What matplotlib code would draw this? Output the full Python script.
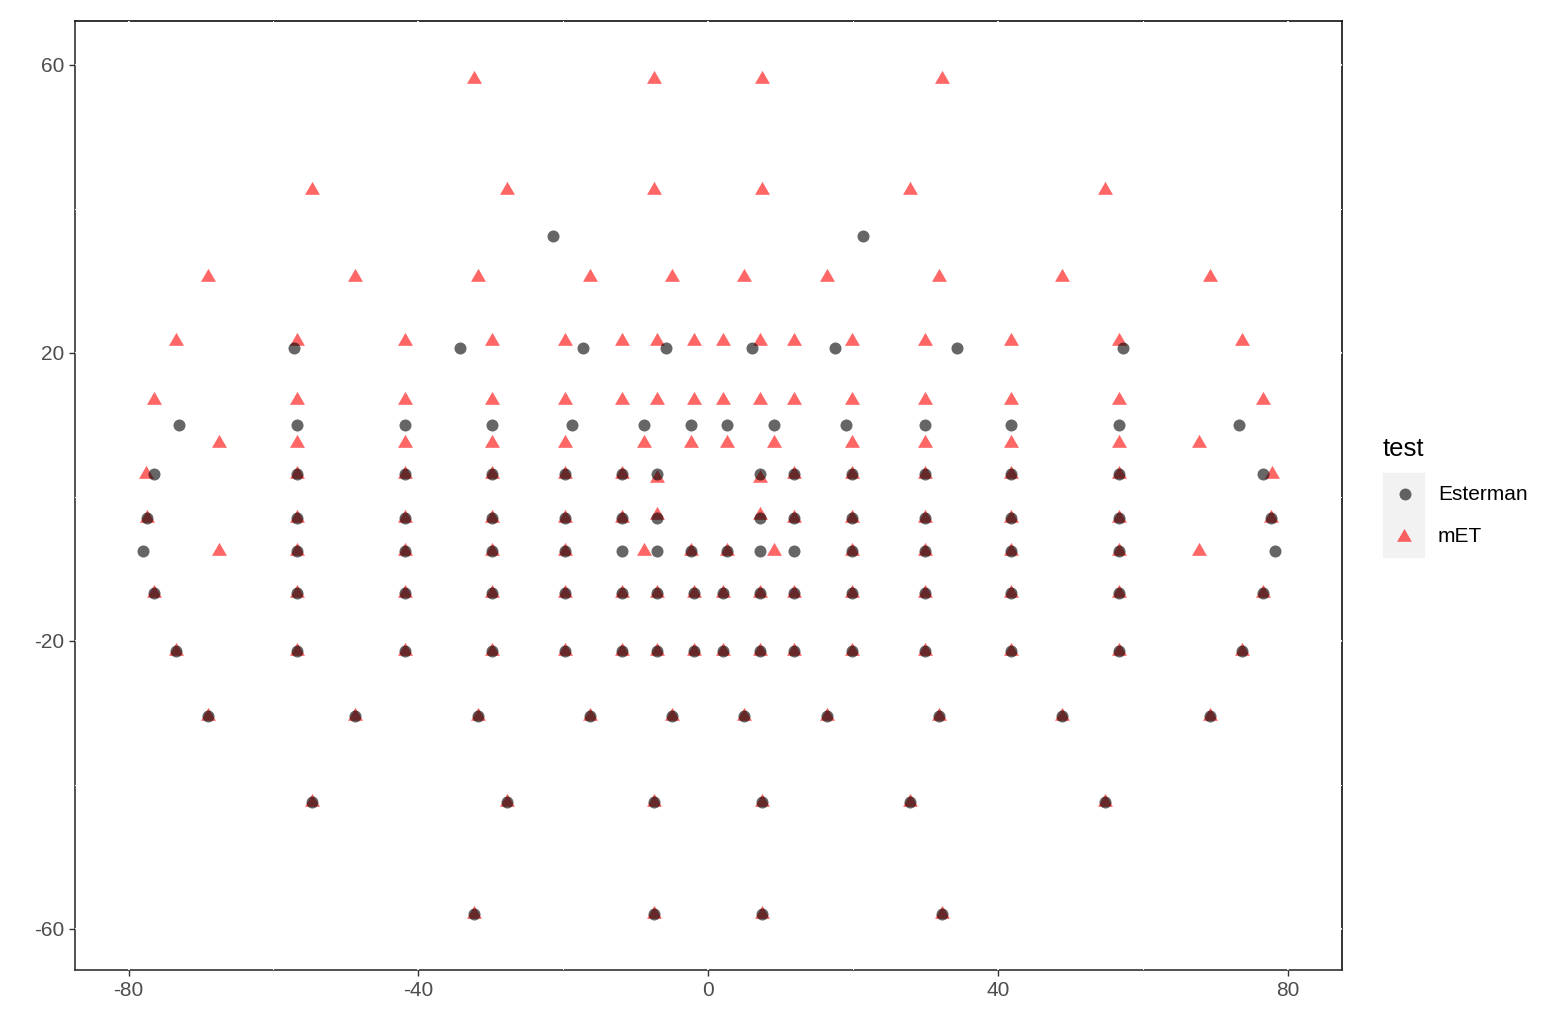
import matplotlib
matplotlib.use("Agg")
import matplotlib.pyplot as plt
from matplotlib.patches import Rectangle
from matplotlib.lines import Line2D

plt.rcParams['font.family'] = ['Liberation Sans', 'DejaVu Sans']
plt.rcParams['axes.unicode_minus'] = False

# Esterman points, stored row by row (y value of the row, then the x values)
est_y = [36.2, 20.65, 10.0, 3.15, -2.95, -7.45, -13.4, -21.4, -30.4, -42.4, -57.9]
est_x = [
    [-21.4, 21.4],
    [-57.2, -34.2, -17.3, -5.8, 6.1, 17.5, 34.4, 57.3],
    [-73.0, -56.7, -41.8, -29.9, -18.8, -8.8, -2.3, 2.6, 9.1, 19.0, 29.9, 41.8, 56.7, 73.3],
    [-76.5, -56.7, -41.8, -29.9, -19.8, -11.9, -7.0, 7.1, 11.9, 19.8, 29.9, 41.8, 56.7, 76.6],
    [-77.4, -56.7, -41.8, -29.9, -19.8, -11.9, -7.0, 7.1, 11.9, 19.8, 29.9, 41.8, 56.7, 77.7],
    [-78.0, -56.7, -41.8, -29.9, -19.8, -11.9, -7.0, -2.3, 2.6, 7.1, 11.9, 19.8, 29.9, 41.8, 56.7, 78.3],
    [-76.5, -56.7, -41.8, -29.9, -19.8, -11.9, -7.0, -2.0, 2.0, 7.1, 11.9, 19.8, 29.9, 41.8, 56.7, 76.6],
    [-73.4, -56.7, -41.8, -29.9, -19.8, -11.9, -7.0, -2.0, 2.0, 7.1, 11.9, 19.8, 29.9, 41.8, 56.7, 73.7],
    [-69.0, -48.7, -31.8, -16.3, -5.0, 5.0, 16.4, 31.8, 48.9, 69.3],
    [-54.7, -27.7, -7.5, 7.5, 27.9, 54.8],
    [-32.3, -7.5, 7.5, 32.3],
]

# mET points, same layout
met_y = [58.1, 42.6, 30.6, 21.6, 13.5, 7.55, 3.15, 2.6, -2.5, -2.95, -7.45,
         -13.4, -21.4, -30.4, -42.4, -57.9]
met_x = [
    [-32.3, -7.5, 7.5, 32.3],
    [-54.7, -27.7, -7.5, 7.5, 27.9, 54.8],
    [-69.0, -48.7, -31.8, -16.3, -5.0, 5.0, 16.4, 31.8, 48.9, 69.3],
    [-73.4, -56.7, -41.8, -29.9, -19.8, -11.9, -7.0, -2.0, 2.0, 7.1, 11.9, 19.8, 29.9, 41.8, 56.7, 73.7],
    [-76.5, -56.7, -41.8, -29.9, -19.8, -11.9, -7.0, -2.0, 2.0, 7.1, 11.9, 19.8, 29.9, 41.8, 56.7, 76.6],
    [-67.5, -56.7, -41.8, -29.9, -19.8, -8.8, -2.3, 2.6, 9.1, 19.8, 29.9, 41.8, 56.7, 67.8],
    [-77.6, -56.7, -41.8, -29.9, -19.8, -11.9, 11.9, 19.8, 29.9, 41.8, 56.7, 77.9],
    [-7.0, 7.1],
    [-7.0, 7.1],
    [-77.4, -56.7, -41.8, -29.9, -19.8, -11.9, 11.9, 19.8, 29.9, 41.8, 56.7, 77.7],
    [-67.5, -56.7, -41.8, -29.9, -19.8, -8.8, -2.3, 2.6, 9.1, 19.8, 29.9, 41.8, 56.7, 67.8],
    [-76.5, -56.7, -41.8, -29.9, -19.8, -11.9, -7.0, -2.0, 2.0, 7.1, 11.9, 19.8, 29.9, 41.8, 56.7, 76.6],
    [-73.4, -56.7, -41.8, -29.9, -19.8, -11.9, -7.0, -2.0, 2.0, 7.1, 11.9, 19.8, 29.9, 41.8, 56.7, 73.7],
    [-69.0, -48.7, -31.8, -16.3, -5.0, 5.0, 16.4, 31.8, 48.9, 69.3],
    [-54.7, -27.7, -7.5, 7.5, 27.9, 54.8],
    [-32.3, -7.5, 7.5, 32.3],
]

legend_labels = ['Esterman', 'mET']
x_ticks = [-80, -40, 0, 40, 80]
y_ticks = [-60, -20, 20, 60]


def flatten(rows_y, rows_x):
    xs, ys = [], []
    for yv, row in zip(rows_y, rows_x):
        for xv in row:
            xs.append(xv)
            ys.append(yv)
    return xs, ys


ex, ey = flatten(est_y, est_x)
mx, my = flatten(met_y, met_x)

W, H = 1545, 1017
fig = plt.figure(figsize=(W / 100, H / 100), dpi=100)
ax = fig.add_axes([75 / W, 47 / H, (1342 - 75) / W, (970 - 21) / H])

tri = [(-1, -0.577), (1, -0.577), (0, 1.155)]
circ_col = (0, 0, 0, 0.6)
tri_col = (1, 0, 0, 0.6)

ax.scatter(mx, my, marker=tri, s=155, color=tri_col, linewidths=0, zorder=3)
ax.scatter(ex, ey, marker='o', s=75, color=circ_col, linewidths=0, zorder=4)

ax.set_xlim(-87.4, 87.5)
ax.set_ylim(-65.7, 66.1)
ax.set_xticks(x_ticks)
ax.set_yticks(y_ticks)
ax.set_xticks([-60, -20, 20, 60], minor=True)
ax.set_yticks([-40, 0, 40], minor=True)
ax.tick_params(which='major', length=4, width=1, color='#333333',
               labelcolor='#4D4D4D', labelsize=15, pad=4)
ax.tick_params(which='minor', length=0)

# white grid, only visible where it crosses the frame
ax.set_axisbelow(True)
ax.grid(which='major', color='white', linewidth=1.3)
ax.grid(which='minor', color='white', linewidth=0.7)
for name, sp in ax.spines.items():
    sp.set_color('#333333' if name in ('left', 'bottom') else '#111111')
    sp.set_linewidth(1.2)
    sp.set_zorder(0.3)

# legend drawn by hand (ggplot style grey keys)
fig.add_artist(Rectangle((1383 / W, 1 - 557 / H), 41 / W, 84 / H,
                         transform=fig.transFigure, color='#F2F2F2', zorder=1))
fig.text(1383 / W, 1 - 449 / H, 'test', fontsize=18.5, va='center', ha='left')
fig.add_artist(Line2D([1405 / W], [1 - 494 / H], marker='o', markersize=8.6,
                      color=circ_col, markeredgewidth=0, transform=fig.transFigure))
fig.add_artist(Line2D([1404 / W], [1 - 537 / H], marker=tri, markersize=12.4,
                      color=tri_col, markeredgewidth=0, transform=fig.transFigure))
fig.text(1438 / W, 1 - 494 / H, legend_labels[0], fontsize=15, va='center', ha='left')
fig.text(1438 / W, 1 - 536 / H, legend_labels[1], fontsize=15, va='center', ha='left')

fig.savefig('out.png', dpi=100)
